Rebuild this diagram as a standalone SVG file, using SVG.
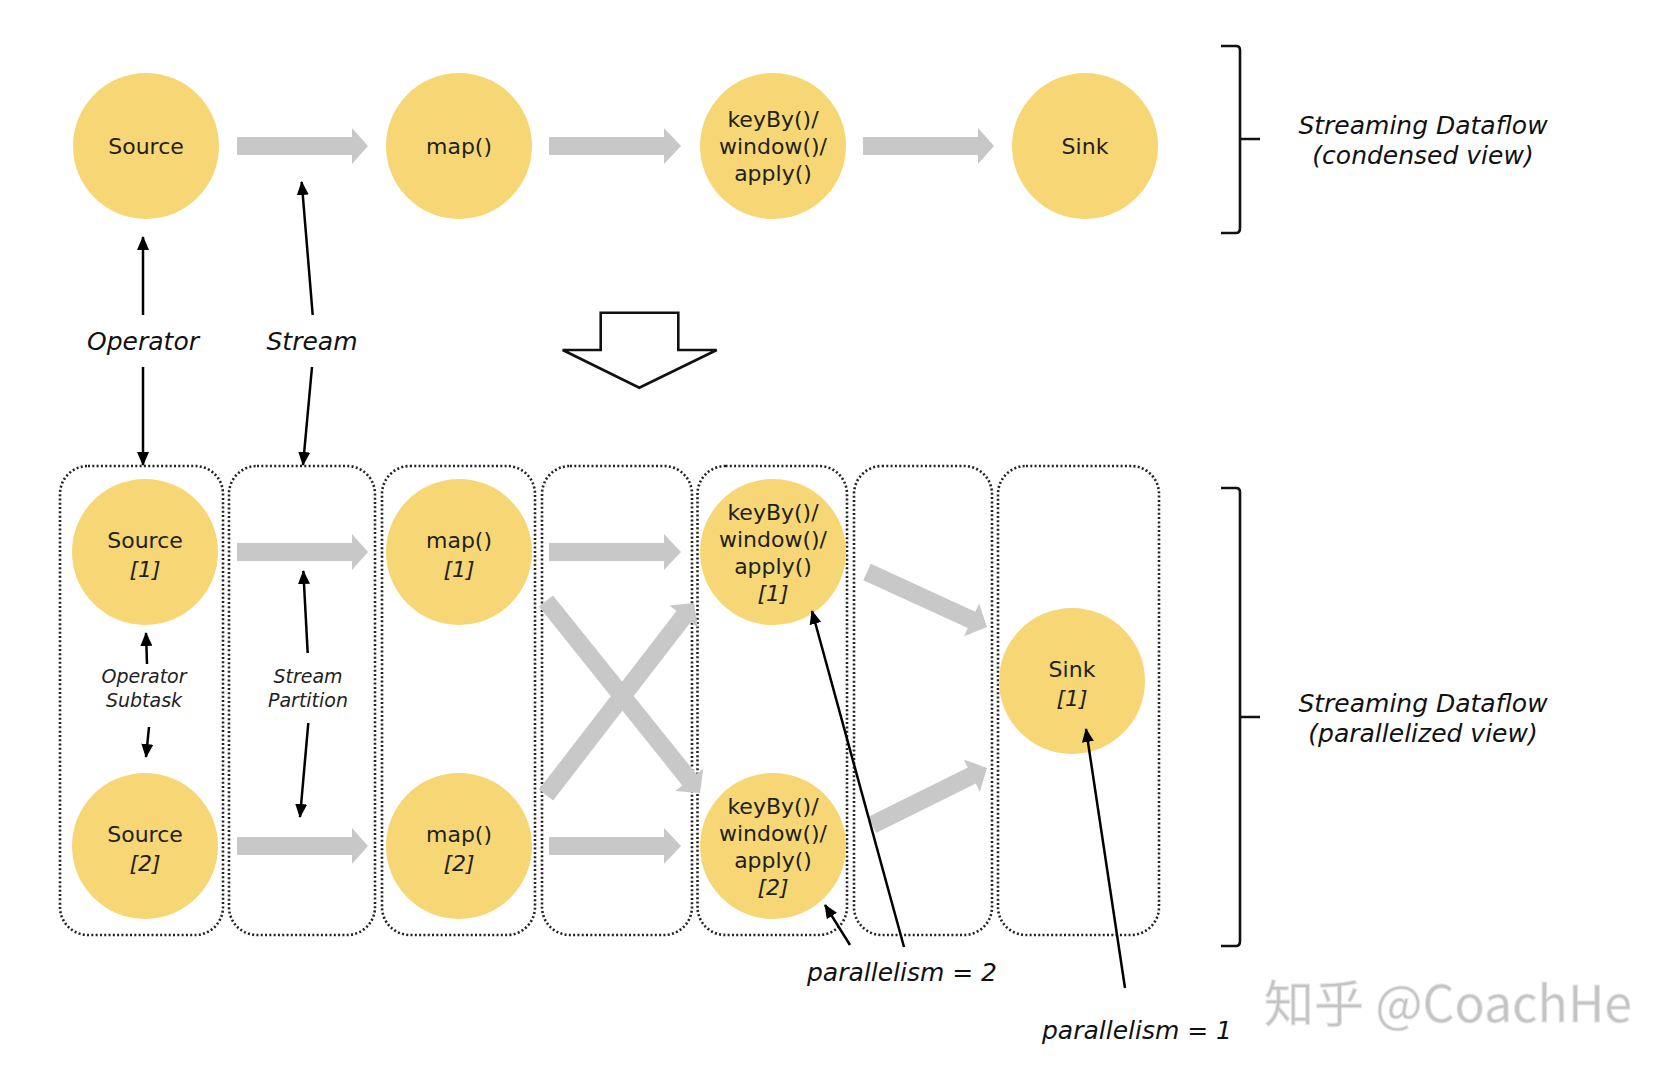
<svg xmlns="http://www.w3.org/2000/svg" width="1680" height="1072" viewBox="0 0 1680 1072">
<style>
.node{fill:#f7d775;}
.lbl{font-family:"DejaVu Sans","Liberation Sans",sans-serif;font-size:22px;fill:#231f1a;text-anchor:middle;}
.it{font-style:italic;}
.big{font-family:"DejaVu Sans","Liberation Sans",sans-serif;font-size:25px;font-style:italic;fill:#111;text-anchor:middle;}
.small{font-family:"DejaVu Sans","Liberation Sans",sans-serif;font-size:19px;font-style:italic;fill:#222;text-anchor:middle;}
.flow{fill:#c8c8c8;}
.ptr{stroke:#000;stroke-width:2.5;fill:none;marker-end:url(#ah);}
.box{fill:none;stroke:#222;stroke-width:2.6;stroke-dasharray:2 2.3;}
.brk{fill:none;stroke:#111;stroke-width:2.6;}
.wm{font-family:"Noto Sans CJK SC","Noto Sans",sans-serif;font-size:50px;fill:#c4c4c4;stroke:#e6e6e6;stroke-width:1;}
</style>
<defs>
<marker id="ah" markerUnits="userSpaceOnUse" markerWidth="14" markerHeight="12" viewBox="0 0 14 12" refX="13" refY="6" orient="auto">
<path d="M0,0 L14,6 L0,12 Z" fill="#000"/>
</marker>
</defs>
<rect width="1680" height="1072" fill="#fff"/>

<g id="partitions">
<rect class="box" x="60" y="466" width="163" height="469" rx="28"/>
<rect class="box" x="229" y="466" width="146" height="469" rx="28"/>
<rect class="box" x="382" y="466" width="153" height="469" rx="28"/>
<rect class="box" x="542" y="466" width="150" height="469" rx="28"/>
<rect class="box" x="697.5" y="466" width="149.5" height="469" rx="28"/>
<rect class="box" x="854" y="466" width="138" height="469" rx="28"/>
<rect class="box" x="998" y="466" width="161" height="469" rx="28"/>
</g>

<g id="n-source"><circle class="node" cx="146" cy="146" r="73"/><text class="lbl" x="146" y="154">Source</text></g>
<g id="n-map"><circle class="node" cx="459" cy="146" r="73"/><text class="lbl" x="459" y="154">map()</text></g>
<g id="n-keyby"><circle class="node" cx="773" cy="146" r="73"/><text class="lbl" x="773" y="127">keyBy()/</text><text class="lbl" x="773" y="154">window()/</text><text class="lbl" x="773" y="181">apply()</text></g>
<g id="n-sink"><circle class="node" cx="1085" cy="146" r="73"/><text class="lbl" x="1085" y="154">Sink</text></g>

<g id="n-source1"><circle class="node" cx="145" cy="552" r="73"/><text class="lbl" x="145" y="548">Source</text><text class="lbl it" x="145" y="577">[1]</text></g>
<g id="n-source2"><circle class="node" cx="145" cy="846" r="73"/><text class="lbl" x="145" y="842">Source</text><text class="lbl it" x="145" y="871">[2]</text></g>
<g id="n-map1"><circle class="node" cx="459" cy="552" r="73"/><text class="lbl" x="459" y="548">map()</text><text class="lbl it" x="459" y="577">[1]</text></g>
<g id="n-map2"><circle class="node" cx="459" cy="846" r="73"/><text class="lbl" x="459" y="842">map()</text><text class="lbl it" x="459" y="871">[2]</text></g>
<g id="n-keyby1"><circle class="node" cx="773" cy="552" r="73"/><text class="lbl" x="773" y="520">keyBy()/</text><text class="lbl" x="773" y="547">window()/</text><text class="lbl" x="773" y="574">apply()</text><text class="lbl it" x="773" y="601">[1]</text></g>
<g id="n-keyby2"><circle class="node" cx="773" cy="846" r="73"/><text class="lbl" x="773" y="814">keyBy()/</text><text class="lbl" x="773" y="841">window()/</text><text class="lbl" x="773" y="868">apply()</text><text class="lbl it" x="773" y="895">[2]</text></g>
<g id="n-sink1"><circle class="node" cx="1072" cy="681" r="73"/><text class="lbl" x="1072" y="677">Sink</text><text class="lbl it" x="1072" y="706">[1]</text></g>

<g id="connectors">
<polygon class="flow" points="237,137 352,137 352,128 368,146 352,164 352,155 237,155"/>
<polygon class="flow" points="549,137 664,137 664,128 681,146 664,164 664,155 549,155"/>
<polygon class="flow" points="863,137 978,137 978,128 994,146 978,164 978,155 863,155"/>
<polygon class="flow" points="237,543 352,543 352,534 368,552 352,570 352,561 237,561"/>
<polygon class="flow" points="237,837 352,837 352,828 368,846 352,864 352,855 237,855"/>
<polygon class="flow" points="549,543 664,543 664,534 681,552 664,570 664,561 549,561"/>
<polygon class="flow" points="549,837 664,837 664,828 681,846 664,864 664,855 549,855"/>
<polygon class="flow" points="553,595.4 696.4,774.1 703.4,768.5 700,793 675.3,791 682.3,785.4 539,606.6"/>
<polygon class="flow" points="538.9,789.5 676.5,611 669.4,605.5 694,603 697.9,627.4 690.8,622 553.1,800.5"/>
<polygon class="flow" points="870.8,563.8 975.3,611.7 979.1,603.6 987,627 964.1,636.3 967.8,628.1 863.3,580.2"/>
<polygon class="flow" points="868,816.9 967.8,767.5 963.8,759.4 987,768 979.8,791.7 975.8,783.6 876,833.1"/>

<line class="ptr" x1="143" y1="315" x2="143" y2="237"/>
<line class="ptr" x1="312.7" y1="315" x2="301.7" y2="182"/>
<line class="ptr" x1="143" y1="367" x2="143" y2="465"/>
<line class="ptr" x1="312" y1="367" x2="303" y2="465"/>
<line class="ptr" x1="147" y1="664" x2="146" y2="633"/>
<line class="ptr" x1="149" y1="727" x2="146" y2="757"/>
<line class="ptr" x1="307.7" y1="653" x2="303.3" y2="571"/>
<line class="ptr" x1="308.3" y1="723" x2="300" y2="817"/>
<line class="ptr" x1="904" y1="947" x2="812" y2="611"/>
<line class="ptr" x1="850" y1="945" x2="825" y2="905"/>
<line class="ptr" x1="1125" y1="988" x2="1086" y2="729"/>
</g>

<g id="bigarrow"><polygon points="600.7,312.7 678.3,312.7 678.3,350 716.7,350 639.3,387.7 562.7,350 600.7,350" fill="#fff" stroke="#111" stroke-width="2.6" stroke-linejoin="miter"/></g>

<g id="brackets">
<path class="brk" d="M1221,46 H1236 Q1240,46 1240,50 V228 Q1240,233 1236,233 H1221 M1240,139 H1260"/>
<path class="brk" d="M1221,488 H1236 Q1240,488 1240,492 V941 Q1240,946 1236,946 H1221 M1240,717 H1260"/>
</g>

<g id="labels">
<text class="big" x="143" y="350">Operator</text>
<text class="big" x="312" y="350">Stream</text>
<text class="small" x="144" y="683">Operator</text>
<text class="small" x="144" y="707">Subtask</text>
<text class="small" x="308" y="683">Stream</text>
<text class="small" x="308" y="707">Partition</text>
<text class="big" x="902" y="981">parallelism = 2</text>
<text class="big" x="1137" y="1039">parallelism = 1</text>
<text class="big" x="1423" y="134">Streaming Dataflow</text>
<text class="big" x="1423" y="164">(condensed view)</text>
<text class="big" x="1423" y="712">Streaming Dataflow</text>
<text class="big" x="1423" y="742">(parallelized view)</text>
</g>

<text class="wm" x="1264" y="1022">知乎 @CoachHe</text>
</svg>
